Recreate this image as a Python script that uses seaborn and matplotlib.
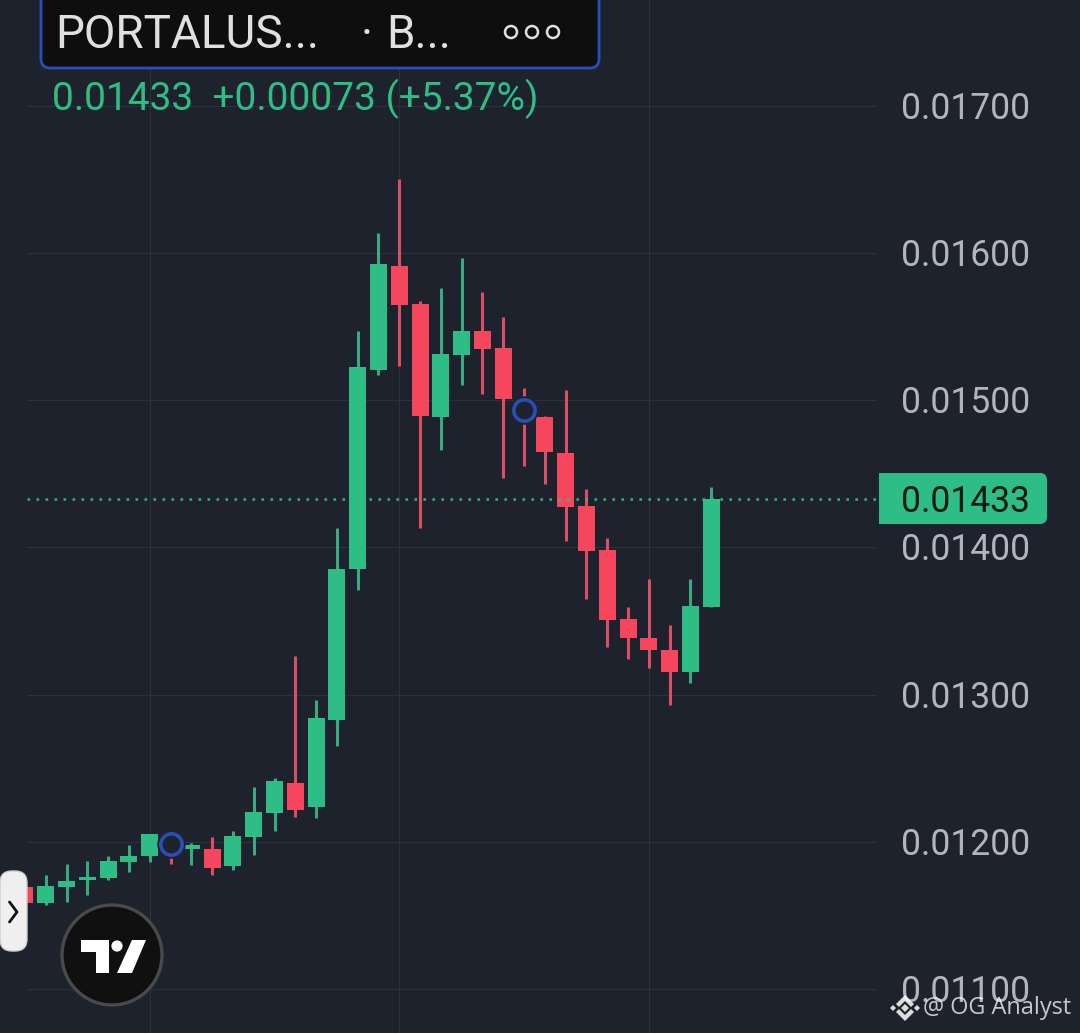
import numpy as np
import pandas as pd
import seaborn as sns
import matplotlib.pyplot as plt
from matplotlib.patches import Circle, FancyBboxPatch, Polygon, Rectangle
from matplotlib.transforms import ScaledTranslation

# Candle values
opens = [0.011693, 0.011584, 0.011693, 0.011741, 0.011754, 0.011863, 0.011904, 0.012026, 0.011951,
         0.011951, 0.011836, 0.012033, 0.012196, 0.012400, 0.012237, 0.012828, 0.013854, 0.015206,
         0.015913, 0.015655, 0.014887, 0.015308, 0.015471, 0.015356, 0.014989, 0.014887, 0.014642,
         0.014282, 0.013983, 0.013514, 0.013385, 0.013304, 0.013154, 0.013596]
closes = [0.011584, 0.011700, 0.011734, 0.011761, 0.011870, 0.011904, 0.012053, 0.011945, 0.011978,
          0.011822, 0.012040, 0.012203, 0.012413, 0.012216, 0.012841, 0.013854, 0.015227, 0.015926,
          0.015648, 0.014894, 0.015315, 0.015471, 0.015349, 0.015009, 0.014880, 0.014649, 0.014275,
          0.013976, 0.013507, 0.013385, 0.013304, 0.013154, 0.013602, 0.014330]
highs = [0.011693, 0.011775, 0.011849, 0.011870, 0.011904, 0.011978, 0.012053, 0.012026, 0.011992,
         0.012033, 0.012074, 0.012373, 0.012434, 0.013263, 0.012964, 0.014133, 0.015471, 0.016137,
         0.016504, 0.015675, 0.015763, 0.015967, 0.015736, 0.015566, 0.015084, 0.014894, 0.015070,
         0.014398, 0.014065, 0.013596, 0.013786, 0.013473, 0.013786, 0.014411]
lows = [0.011584, 0.011571, 0.011591, 0.011639, 0.011741, 0.011795, 0.011863, 0.011849, 0.011843,
        0.011775, 0.011809, 0.011911, 0.012074, 0.012169, 0.012162, 0.012651, 0.013711, 0.015172,
        0.015233, 0.014133, 0.014663, 0.015104, 0.015043, 0.014472, 0.014554, 0.014431, 0.014044,
        0.013650, 0.013324, 0.013242, 0.013181, 0.012930, 0.013079, 0.013596]

price_ticks = [0.011, 0.012, 0.013, 0.014, 0.015, 0.016, 0.017]
time_ticks = [6, 18, 30]
last_price = 0.01433
marker_idx = [7, 24]
marker_price = [0.011985, 0.014934]

BG = '#1e222d'
GRID = '#2d313b'
UP = '#2ebd85'
DOWN = '#f6465d'
UP_WICK = '#38a981'
DOWN_WICK = '#d94f68'
BLUE = '#2a4db8'

df = pd.DataFrame({'open': opens, 'close': closes, 'high': highs, 'low': lows})
df['idx'] = df.index
df['top'] = df[['open', 'close']].max(axis=1)
df['bottom'] = df[['open', 'close']].min(axis=1)
df['body'] = df['top'] - df['bottom']
df['up'] = df['close'] >= df['open']

sns.set_style('dark', rc={'axes.facecolor': BG, 'figure.facecolor': BG, 'axes.grid': True,
                          'grid.color': GRID, 'grid.linewidth': 2.0})
plt.rcParams['font.family'] = ['Roboto', 'DejaVu Sans']

fig = plt.figure(figsize=(10.8, 10.33), dpi=100)
ax = fig.add_axes([27 / 1080, 0, (876 - 27) / 1080, 1])

# Wicks first, then bodies on top
for up, wick in [(True, UP_WICK), (False, DOWN_WICK)]:
    part = df[df['up'] == up]
    ax.vlines(part['idx'], part['low'], part['high'], color=wick, lw=2.2, zorder=2)

for up, color in [(True, UP), (False, DOWN)]:
    part = df[df['up'] == up]
    sns.barplot(data=part, x='idx', y='body', bottom=part['bottom'].values, native_scale=True,
                orient='x', color=color, saturation=1, width=0.82, errorbar=None,
                linewidth=0, ax=ax, zorder=3)

# Last price line
ax.axhline(last_price, color=UP, lw=1.9, ls=(0, (1, 2.41)), alpha=0.9, zorder=4)

# Hollow markers with a gap round them
sns.scatterplot(x=marker_idx, y=marker_price, s=420, color=BG, linewidth=0, ax=ax, zorder=5)
sns.scatterplot(x=marker_idx, y=marker_price, s=235, color=BG, edgecolor=BLUE, linewidth=2.6,
                ax=ax, zorder=6)

ax.set_xlim(0.10, 40.92)
ax.set_ylim(0.010701, 0.01772)
ax.set_xticks(time_ticks)
ax.set_xticklabels([])
ax.set_yticks(price_ticks)
ax.set_yticklabels([f'{p:.5f}' for p in price_ticks])
ax.yaxis.tick_right()
ax.tick_params(axis='y', length=0, pad=18, labelsize=25.6, labelcolor='#b2b5be')
ax.tick_params(axis='x', length=0)
ax.set_xlabel('')
ax.set_ylabel('')
ax.set_axisbelow(True)
sns.despine(ax=ax, left=True, right=True, top=True, bottom=True)

# Labels sit a pixel higher in the original
lift = ScaledTranslation(0, 1 / 100, fig.dpi_scale_trans)
for label in ax.get_yticklabels():
    label.set_transform(label.get_transform() + lift)

# Overlay in pixel coordinates for the app furniture
ov = fig.add_axes([0, 0, 1, 1], zorder=10)
ov.set_xlim(0, 1080)
ov.set_ylim(1033, 0)
ov.axis('off')
ov.patch.set_alpha(0)

# Symbol box
ov.add_patch(FancyBboxPatch((41, -20), 558, 88, boxstyle='round,pad=0,rounding_size=9',
                            fc='#0e0e0f', ec=BLUE, lw=2.0))
ov.text(55, 48, 'PORTALUS...', fontsize=33, color='#e0e0e0', va='baseline')
ov.text(361, 48, '·', fontsize=33, color='#e0e0e0', va='baseline')
ov.text(386, 48, 'B...', fontsize=33, color='#e0e0e0', va='baseline')
for cx in [511, 532, 553]:
    ov.add_patch(Circle((cx, 32), 6, fc='none', ec='#e0e0e0', lw=1.8))

ov.text(52, 110, '0.01433  +0.00073 (+5.37%)', fontsize=28, color=UP, va='baseline')

# Price tag
ov.add_patch(FancyBboxPatch((879, 473), 168, 51, boxstyle='round,pad=0,rounding_size=7', fc=UP, ec='none'))
ov.add_patch(Rectangle((879, 473), 20, 51, fc=UP, ec='none'))
ov.text(901, 498, f'{last_price:.5f}', fontsize=25.6, color='#0c1a16', va='center_baseline')

# Side handle
ov.add_patch(FancyBboxPatch((0, 871), 27, 80, boxstyle='round,pad=0,rounding_size=12', fc='#efefef',
                            ec='#cfcfcf', lw=1.0))
ov.plot([9.5, 17, 9.5], [902, 912, 922], color='#111111', lw=2.0)

# TradingView badge
ov.add_patch(Circle((112, 955), 50, fc='#101010', ec='#4a4a4a', lw=2.4))
ov.add_patch(Polygon([(81, 940), (109, 940), (109, 973), (96, 973), (96, 952), (81, 952)], fc='white', ec='none'))
ov.add_patch(Circle((117, 946), 5.6, fc='white', ec='none'))
ov.add_patch(Polygon([(132, 940), (146, 940), (132, 973), (117, 973)], fc='white', ec='none'))

# Watermark
wm = dict(fc='white', ec='none', alpha=0.85)
for cx, r in [(893, 3), (905, 4), (917, 3)]:
    ov.add_patch(Polygon([(cx - r, 1008), (cx, 1008 - r), (cx + r, 1008), (cx, 1008 + r)], **wm))
ov.add_patch(Polygon([(896, 1004), (905, 995), (914, 1004), (911, 1007), (905, 1001), (899, 1007)], **wm))
ov.add_patch(Polygon([(896, 1012), (905, 1021), (914, 1012), (911, 1009), (905, 1015), (899, 1009)], **wm))
ov.text(923, 1008, '@ OG Analyst', fontsize=16.9, family=['Open Sans', 'DejaVu Sans'], color='white',
        alpha=0.75, va='center')

fig.savefig('out.png', dpi=100, facecolor=BG)
